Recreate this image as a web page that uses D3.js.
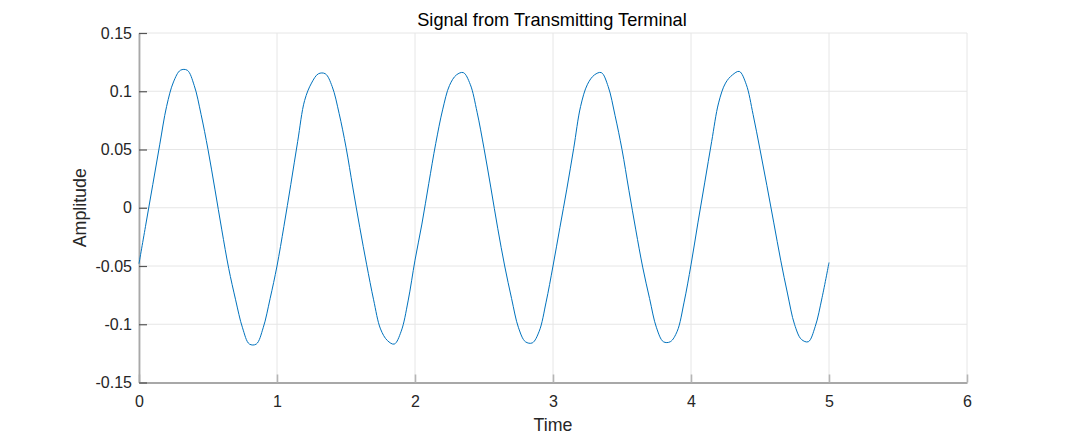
<!DOCTYPE html>
<html>
<head>
<meta charset="utf-8">
<script src="https://cdn.jsdelivr.net/npm/d3@7"></script>
<style>
  body { margin: 0; background: #fff; }
  svg { display: block; font-family: "Liberation Sans", Arial, Helvetica, sans-serif; }
</style>
</head>
<body>
<script>
const sampleStep = 0.05;
const amplitude = [
  -0.048, -0.014, 0.020, 0.054, 0.087, 0.108, 0.118, 0.118, 0.105, 0.080,
   0.050,  0.016, -0.019, -0.052, -0.079, -0.103, -0.117, -0.117, -0.103, -0.078,
  -0.050, -0.016, 0.020, 0.057, 0.092, 0.107, 0.115, 0.115, 0.104, 0.081,
   0.052,  0.017, -0.017, -0.049, -0.079, -0.104, -0.114, -0.117, -0.106, -0.080,
  -0.045, -0.014, 0.021, 0.055, 0.084, 0.105, 0.114, 0.116, 0.106, 0.082,
   0.051,  0.017, -0.018, -0.050, -0.078, -0.103, -0.115, -0.116, -0.106, -0.081,
  -0.050, -0.017, 0.016, 0.051, 0.087, 0.106, 0.114, 0.116, 0.104, 0.079,
   0.050,  0.015, -0.019, -0.051, -0.078, -0.103, -0.115, -0.115, -0.106, -0.081,
  -0.049, -0.013, 0.022, 0.057, 0.090, 0.107, 0.114, 0.117, 0.106, 0.080,
   0.050,  0.019, -0.013, -0.045, -0.074, -0.100, -0.113, -0.115, -0.102, -0.077,
  -0.047
];
const time = amplitude.map((_, i) => i * sampleStep);

const xTicks = [0, 1, 2, 3, 4, 5, 6];
const yTicks = [-0.15, -0.1, -0.05, 0, 0.05, 0.1, 0.15];
const yTickLabels = ["-0.15", "-0.1", "-0.05", "0", "0.05", "0.1", "0.15"];

const width = 1068, height = 438;
const svg = d3.select("body").append("svg").attr("width", width).attr("height", height);

const x = d3.scaleLinear().domain([0, 6]).range([139, 967]);
const y = d3.scaleLinear().domain([-0.15, 0.15]).range([382.5, 33]);

// grid
svg.append("g").selectAll("line").data(yTicks).enter().append("line")
  .attr("x1", x(0)).attr("x2", x(6))
  .attr("y1", d => y(d)).attr("y2", d => y(d))
  .attr("stroke", "#e6e6e6").attr("stroke-width", 1);
svg.append("g").selectAll("line").data(xTicks).enter().append("line")
  .attr("y1", y(-0.15)).attr("y2", y(0.15))
  .attr("x1", d => x(d)).attr("x2", d => x(d))
  .attr("stroke", "#e6e6e6").attr("stroke-width", 1);

// axes
const xAxis = svg.append("g")
  .attr("transform", `translate(0,${y(-0.15)})`)
  .call(d3.axisBottom(x).tickValues(xTicks).tickFormat(d3.format("d"))
    .tickSizeInner(-8).tickSizeOuter(0).tickPadding(13));
xAxis.select(".domain").attr("stroke", "#a8a8a8").attr("stroke-width", 1.8);
xAxis.selectAll(".tick line").attr("stroke", "#b5b5b5").attr("stroke-width", 1.6);
xAxis.selectAll(".tick text").attr("fill", "#262626").style("font-size", "16px")
  .style("font-family", "'Liberation Sans', Arial, sans-serif");

const yAxis = svg.append("g")
  .attr("transform", `translate(${x(0)},0)`)
  .call(d3.axisLeft(y).tickValues(yTicks).tickFormat((d, i) => yTickLabels[i])
    .tickSizeInner(-8).tickSizeOuter(0).tickPadding(7));
yAxis.select(".domain").attr("stroke", "#a8a8a8").attr("stroke-width", 1.8);
yAxis.selectAll(".tick line").attr("stroke", "#555").attr("stroke-width", 1.2);
yAxis.selectAll(".tick text").attr("fill", "#262626").style("font-size", "16px")
  .style("font-family", "'Liberation Sans', Arial, sans-serif");

// signal
const line = d3.line()
  .x((d, i) => x(time[i]))
  .y(d => y(d))
  .curve(d3.curveCatmullRom.alpha(0.5));

svg.append("path")
  .datum(amplitude)
  .attr("d", line)
  .attr("fill", "none")
  .attr("stroke", "#0072BD")
  .attr("stroke-width", 1);

// labels
svg.append("text")
  .attr("x", 552).attr("y", 26)
  .attr("text-anchor", "middle")
  .attr("fill", "#000")
  .style("font-size", "18.2px")
  .text("Signal from Transmitting Terminal");

svg.append("text")
  .attr("x", 553).attr("y", 431)
  .attr("text-anchor", "middle")
  .attr("fill", "#262626")
  .style("font-size", "17.8px")
  .text("Time");

svg.append("text")
  .attr("transform", `translate(86,${(y(0.15) + y(-0.15)) / 2}) rotate(-90)`)
  .attr("text-anchor", "middle")
  .attr("fill", "#262626")
  .style("font-size", "17.8px")
  .text("Amplitude");
</script>
</body>
</html>
